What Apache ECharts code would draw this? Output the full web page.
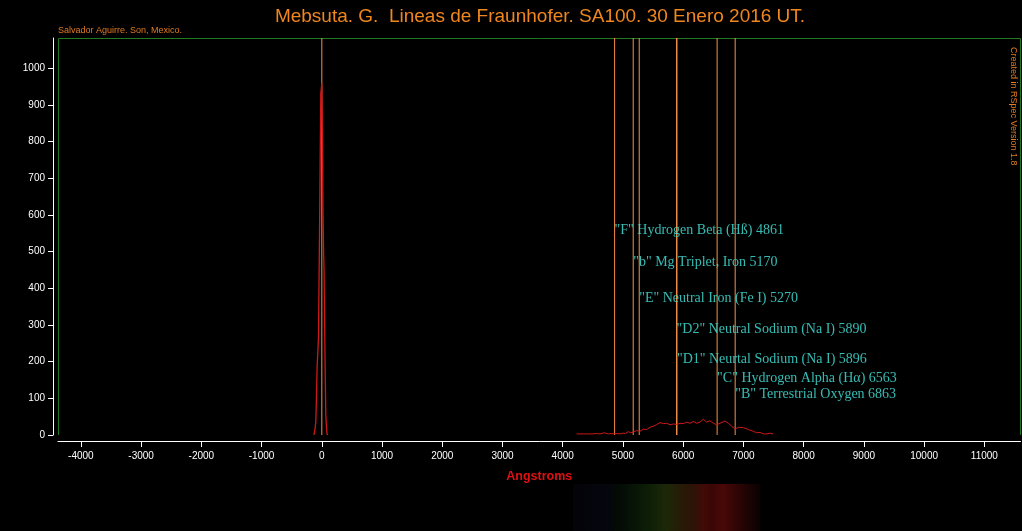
<!DOCTYPE html>
<html>
<head>
<meta charset="utf-8">
<script src="https://cdn.jsdelivr.net/npm/echarts@6/dist/echarts.min.js"></script>
<style>
html,body{margin:0;padding:0;background:#000;}
#chart{width:1022px;height:531px;}
</style>
</head>
<body>
<div id="chart"></div>
<script>
// ---- data ----
const xTicks = [-4000,-3000,-2000,-1000,0,1000,2000,3000,4000,5000,6000,7000,8000,9000,10000,11000];
const yTicks = [0,100,200,300,400,500,600,700,800,900,1000];

// zero-order peak
const zeroWl  = [-130,-121,-110,-100,-90,-78,-65,-55,-45,-35,-28,-17,-8,0,5,11,20,30,38,47,55,66,78,88,100];
const zeroInt = [0,2,20,35,95,185,230,270,440,600,730,930,945,960,955,790,600,500,440,300,185,55,20,2,0];

// solar spectrum (first order)
const solarWl  = [4231,4280,4340,4400,4420,4440,4500,4560,4620,4690,4710,4760,4800,4860,4900,4950,5005,5040,5088,5130,5171,5200,5227,5260,5282,5338,5393,5449,5504,5559,5615,5670,5726,5781,5836,5891,5947,6002,6058,6113,6168,6224,6279,6334,6390,6445,6500,6556,6611,6694,6750,6805,6860,6916,6999,7082,7165,7220,7276,7331,7390,7442,7497];
const solarInt = [3,3,3,3,7,3,3,4,3,6,3,3,4,3,4,3,5,4,9,6,8,12,12,9,10,16,15,21,24,28,34,31,32,28,30,29,32,31,35,32,37,32,35,43,35,39,32,28,32,38,32,24,16,21,20,15,10,6,7,3,3,5,3];

// Fraunhofer marker lines
const markerWl = [0,4861,5170,5270,5890,5896,6563,6863];

// annotations
const labelWl     = [4861,5170,5270,5890,5896,6563,6863];
const labelLevel  = [559,470,372,288,207,154,112];
const labelText   = [
  '"F" Hydrogen Beta (Hß) 4861',
  '"b" Mg Triplet, Iron 5170',
  '"E" Neutral Iron (Fe I) 5270',
  '"D2" Neutral Sodium (Na I) 5890',
  '"D1" Neurtal Sodium (Na I) 5896',
  '"C" Hydrogen Alpha (Hα) 6563',
  '"B" Terrestrial Oxygen 6863'
];

const titleText = 'Mebsuta. G.  Lineas de Fraunhofer. SA100. 30 Enero 2016 UT.';
const authorText = 'Salvador Aguirre. Son, Mexico.';
const creditText = 'Created in RSpec Version 1.8';

const Y_MAX = 1082;

// ---- chart ----
const chart = echarts.init(document.getElementById('chart'));
const zip = (a,b)=>a.map((v,i)=>[v,b[i]]);

const markerSeries = markerWl.map(w => ({
  type: 'line', z: 1, silent: true, symbol: 'none',
  data: [[w, 0], [w, Y_MAX]],
  lineStyle: { color: '#f5904a', width: 1 },
  emphasis: { disabled: true }
}));

const option = {
  backgroundColor: '#000000',
  animation: false,
  grid: { left: 58, right: 1.5, top: 38, bottom: 96 },
  xAxis: {
    type: 'value', min: -4380, max: 11600, offset: 6,
    axisLine: { show: true, onZero: false, lineStyle: { color: '#ffffff', width: 1 } },
    axisTick: { show: true, length: 6, customValues: xTicks, lineStyle: { color: '#ffffff' } },
    axisLabel: { customValues: xTicks, formatter: v => String(v), color: '#ffffff', fontSize: 10, fontFamily: 'Liberation Sans', margin: 10 },
    splitLine: { show: false },
    name: 'Angstroms', nameLocation: 'middle', nameGap: 29,
    nameTextStyle: { color: '#e01010', fontWeight: 'bold', fontSize: 12.5, fontFamily: 'Liberation Sans' }
  },
  yAxis: {
    type: 'value', min: 0, max: Y_MAX, offset: 5,
    axisLine: { show: true, onZero: false, lineStyle: { color: '#ffffff', width: 1 } },
    axisTick: { show: true, length: 5, customValues: yTicks, lineStyle: { color: '#ffffff' } },
    axisLabel: { customValues: yTicks, formatter: v => String(v), color: '#ffffff', fontSize: 10, fontFamily: 'Liberation Sans', margin: 8 },
    splitLine: { show: false }
  },
  graphic: [
    { type: 'polyline', z: 0, silent: true,
      shape: { points: [[58.5,435],[58.5,38.5],[1020.5,38.5],[1020.5,435]] },
      style: { stroke: '#1f7a1f', lineWidth: 1, fill: null } },
    { type: 'text', silent: true, x: 540, y: 7,
      style: { text: titleText, fill: '#f0861e', font: '19px "Liberation Sans"', align: 'center' } },
    { type: 'text', silent: true, x: 58, y: 26,
      style: { text: authorText, fill: '#e07b20', font: '9px "Liberation Sans"' } },
    { type: 'text', silent: true, x: 1018, y: 47, rotation: -Math.PI/2,
      style: { text: creditText, fill: '#e07b20', font: '9px "Liberation Sans"' } },
    { type: 'rect', silent: true, z: 0,
      shape: { x: 573, y: 484, width: 187, height: 47 },
      style: { fill: new echarts.graphic.LinearGradient(0,0,1,0,[
        {offset:0, color:'#030308'},{offset:0.18, color:'#05050e'},{offset:0.24, color:'#040a05'},
        {offset:0.3, color:'#061206'},{offset:0.4, color:'#0d1e06'},{offset:0.5, color:'#1c2808'},
        {offset:0.57, color:'#261c06'},{offset:0.64, color:'#2c1406'},{offset:0.7, color:'#420a06'},
        {offset:0.74, color:'#3a0606'},{offset:0.8, color:'#4a0808'},{offset:0.9, color:'#280404'},
        {offset:1, color:'#0a0202'}]) } }
  ],
  series: markerSeries.concat([
    { type: 'line', z: 3, data: zip(zeroWl, zeroInt), symbol: 'none',
      lineStyle: { color: '#d01818', width: 1.3 } },
    { type: 'line', z: 3, data: zip(solarWl, solarInt), symbol: 'none',
      lineStyle: { color: '#d01818', width: 1 } },
    { type: 'scatter', z: 4, symbolSize: 0, silent: true,
      data: labelWl.map((w,i) => ({ value: [w, labelLevel[i]], name: labelText[i] })),
      label: { show: true, position: 'right', distance: 0, formatter: p => p.name,
        color: '#44e8de', fontFamily: 'Liberation Serif', fontSize: 14 } }
  ])
};
chart.setOption(option);
</script>
</body>
</html>
